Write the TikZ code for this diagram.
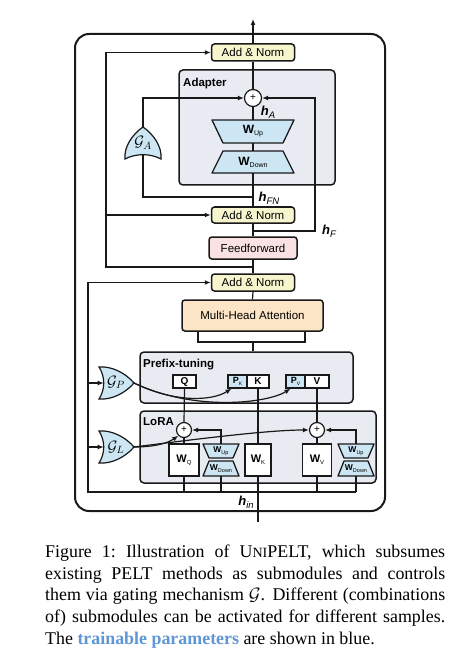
\RequirePackage{fix-cm}
\documentclass[tikz,border=0pt]{standalone}
\usepackage{fontspec}
\setmainfont{Liberation Serif}
\setsansfont{Liberation Sans}
\usetikzlibrary{arrows.meta,calc}
\definecolor{normfill}{RGB}{246,245,205}
\definecolor{fffill}{RGB}{250,226,226}
\definecolor{mhafill}{RGB}{252,229,198}
\definecolor{modfill}{RGB}{232,236,242}
\definecolor{trfill}{RGB}{205,230,243}
\definecolor{capblue}{RGB}{95,150,215}
\definecolor{ln}{RGB}{25,25,25}
\newcommand{\Wlab}[3]{{\fontsize{#1}{#1}\selectfont\bfseries W}{\fontsize{#2}{#2}\selectfont\raisebox{-0.3em}{#3}}}
\newcommand{\hlab}[1]{{\fontsize{13}{13}\selectfont\bfseries\itshape h}{\fontsize{9.5}{9.5}\selectfont\itshape\raisebox{-0.35em}{#1}}}
\newcommand{\capline}[1]{\makebox[400pt][s]{#1}}
% gate: tip x, tip y, rotation, name, length, half width
\newcommand{\gateshape}[6]{%
  \begin{scope}[shift={(#1,#2)},rotate=#3]
    \draw[gatestyle] (-#5,-#6) .. controls ({-0.63*#5},{-1.07*#6}) and ({-0.23*#5},{-0.6*#6}) .. (0,0)
      .. controls ({-0.23*#5},{0.6*#6}) and ({-0.63*#5},{1.07*#6}) .. (-#5,#6)
      .. controls ({-0.82*#5},{0.4*#6}) and ({-0.82*#5},{-0.4*#6}) .. cycle;
    \coordinate (#4-tip) at (0,0);
    \coordinate (#4-back) at ({-0.865*#5},0);
  \end{scope}}
\begin{document}
\begin{tikzpicture}[x=1pt,y=-1pt,
  conn/.style={draw=ln, line width=1.2pt},
  arr/.style={conn, -{Latex[length=6pt,width=5pt]}},
  boxstyle/.style={draw=ln, line width=1.5pt, rounded corners=3pt, inner sep=0pt, font=\sffamily\fontsize{11.5}{12}\selectfont},
  normbox/.style={boxstyle, fill=normfill, minimum width=83pt, minimum height=17pt},
  modbox/.style={draw=ln, line width=1.5pt, fill=modfill, rounded corners=4pt, inner sep=0pt},
  modlabel/.style={anchor=base west, inner sep=0pt, font=\sffamily\bfseries\fontsize{11.5}{12}\selectfont},
  smallbox/.style={draw=ln, line width=1.3pt, fill=white, inner sep=0pt, minimum height=13pt, font=\sffamily\bfseries\fontsize{10}{10}\selectfont},
  wbox/.style={draw=ln, line width=1.3pt, fill=white, inner sep=0pt, minimum height=32pt, font=\sffamily},
  trap/.style={draw=ln, line width=1.3pt, fill=trfill, line join=round},
  gatestyle/.style={draw=ln, line width=1.2pt, fill=trfill},
  pluscirc/.style={circle, draw=ln, line width=1.2pt, fill=white, inner sep=0pt, font=\sffamily\fontsize{10}{10}\selectfont},
  txt/.style={inner sep=0pt, font=\sffamily}
]
\useasboundingbox (0,0) rectangle (474,668);
\fill[white] (0,0) rectangle (474,668);

% outer frame and modules
\node[draw=ln, line width=2pt, rounded corners=14pt, minimum width=310pt, minimum height=477pt, inner sep=0pt] (outer) at (230,272.5) {};
\node[modbox, minimum width=156pt, minimum height=115pt] (adapter) at (257,127.5) {};
\node[modbox, minimum width=213pt, minimum height=51pt] (prefix) at (246.5,377.5) {};
\node[modbox, minimum width=236pt, minimum height=72pt] (lora) at (258,447) {};
\node[modlabel] (adlab) at (183,86.5) {Adapter};
\node[modlabel] (prlab) at (143,367) {Prefix-tuning};
\node[modlabel] (lolab) at (143,425) {LoRA};

% trunk nodes
\node[normbox] (an1) at (253,52.5) {Add \& Norm};
\node[normbox, minimum height=16pt] (an2) at (253,215) {Add \& Norm};
\node[boxstyle, fill=fffill, minimum width=88pt, minimum height=22pt] (ff) at (253,248) {Feedforward};
\node[normbox] (an3) at (253,282.5) {Add \& Norm};
\node[boxstyle, fill=mhafill, minimum width=141pt, minimum height=31pt] (mha) at (252.5,315.5) {Multi-Head Attention};

% adapter internals
\node[pluscirc, minimum size=17pt] (plusA) at (253,98) {+};
\draw[trap] (212,120) -- (294,120) -- (283,143) -- (223,143) -- cycle;
\draw[trap] (223,151) -- (283,151) -- (294,173) -- (212,173) -- cycle;
\node[txt] (wupA) at (253,131) {\Wlab{12}{7}{Up}};
\node[txt] (wdnA) at (253,162) {\Wlab{12}{7}{Down}};
\coordinate (wupA-t) at (253,120);
\coordinate (wupA-b) at (253,143);
\coordinate (wdnA-t) at (253,151);
\coordinate (wdnA-b) at (253,173);
\node[txt] (hA) at (268,112) {\hlab{A}};
\node[txt] (hFN) at (269,198) {\hlab{FN}};
\node[txt] (hF) at (329,231) {\hlab{F}};

% gate A
\gateshape{143}{127}{90}{gA}{32}{18}
\node[txt] (gAlab) at (143,143) {\fontsize{15}{15}\selectfont$\mathcal{G}_A$};

% prefix internals
\node[smallbox, minimum width=23pt] (Q) at (184.5,381.5) {Q};
\node[smallbox, minimum width=19pt, fill=trfill] (pk) at (237.5,381.5) {{\fontsize{9}{9}\selectfont P}{\fontsize{5}{5}\selectfont\mdseries\raisebox{-0.3em}{K}}};
\node[smallbox, minimum width=22pt] (K) at (258,381.5) {K};
\node[smallbox, minimum width=19pt, fill=trfill] (pv) at (295.5,381.5) {{\fontsize{9}{9}\selectfont P}{\fontsize{5}{5}\selectfont\mdseries\raisebox{-0.3em}{V}}};
\node[smallbox, minimum width=24pt] (V) at (317,381.5) {V};
\gateshape{134}{383}{0}{gP}{35}{16}
\node[txt] (gPlab) at (116,382) {\fontsize{15}{15}\selectfont$\mathcal{G}_P$};

% lora internals
\node[pluscirc, minimum size=15pt] (plusL) at (184,430) {+};
\node[pluscirc, minimum size=15pt] (plusR) at (317,430) {+};
\node[wbox, minimum width=30pt] (wq) at (184,460) {\Wlab{11}{6}{Q}};
\node[wbox, minimum width=26pt] (wk) at (258,460) {\Wlab{11}{6}{K}};
\node[wbox, minimum width=29pt] (wv) at (317,460) {\Wlab{11}{6}{V}};
\draw[trap] (203,444) -- (239,444) -- (233,458) -- (209,458) -- cycle;
\draw[trap] (209,461) -- (233,461) -- (239,476) -- (203,476) -- cycle;
\draw[trap] (338,444) -- (374,444) -- (368,458) -- (344,458) -- cycle;
\draw[trap] (344,461) -- (368,461) -- (374,476) -- (338,476) -- cycle;
\node[txt] (wuL) at (221,451) {\Wlab{8.5}{5.5}{Up}};
\node[txt] (wdL) at (221,468.5) {\Wlab{8.5}{5.5}{Down}};
\node[txt] (wuR) at (356,451) {\Wlab{8.5}{5.5}{Up}};
\node[txt] (wdR) at (356,468.5) {\Wlab{8.5}{5.5}{Down}};
\coordinate (wuL-t) at (221,444);
\coordinate (wdL-b) at (221,476);
\coordinate (wuR-t) at (356,444);
\coordinate (wdR-b) at (356,476);
\gateshape{134}{447}{0}{gL}{35}{16}
\node[txt] (gLlab) at (116,447) {\fontsize{15}{15}\selectfont$\mathcal{G}_L$};
\node[txt] (hin) at (246,502) {\hlab{in}};

% coordinates
\coordinate (out) at (253,19);
\coordinate (in) at (258,522);
\coordinate (res1) at (253,267);
\coordinate (L1bot) at (106,267);
\coordinate (L1top) at (106,52.5);
\coordinate (L1mid) at (106,215);
\coordinate (L2bot) at (88,492);
\coordinate (L2top) at (88,282.5);
\coordinate (L2p) at (88,383);
\coordinate (L2l) at (88,447);
\coordinate (busR) at (356,492);
\coordinate (gAturn) at (143,98);
\coordinate (gAlow) at (143,197);
\coordinate (hFNj) at (253,197);
\coordinate (hFj) at (253,231);
\coordinate (hFc) at (315,231);
\coordinate (hFturn) at (315,98);
\coordinate (brL) at (198,331);
\coordinate (brLb) at (198,342);
\coordinate (brR) at (305,331);
\coordinate (brRb) at (305,342);
\coordinate (brM) at (253,342);

% trunk connectors
\draw[arr] (an1.north) -- (out);
\draw[conn] (plusA.north) -- (an1.south);
\draw[conn] (wupA-t) -- (plusA.south);
\draw[conn] (wdnA-t) -- (wupA-b);
\draw[conn] (an2.north) -- (wdnA-b);
\draw[conn] (ff.north) -- (an2.south);
\draw[conn] (an3.north) -- (ff.south);
\draw[conn] (mha.north) -- (an3.south);
\draw[conn] (brL) -- (brLb) -- (brRb) -- (brR);
\draw[conn] (brM) -- (brM |- prefix.north);

% adapter connectors
\draw[arr] (gA-tip) -- (gAturn) -- (plusA.west);
\draw[conn] (gA-back) -- (gAlow) -- (hFNj);
\draw[arr] (hFj) -- (hFc) -- (hFturn) -- (plusA.east);
\draw[arr] (res1) -- (L1bot) -- (L1top) -- (an1.west);
\draw[arr] (L1mid) -- (an2.west);

% lower residual and bus
\draw[arr] (busR) -- (L2bot) -- (L2top) -- (an3.west);
\draw[arr] (L2p) -- (gP-back);
\draw[arr] (L2l) -- (gL-back);
\draw[conn] (in) -- (wk.south);
\draw[conn] (wq.south) -- (wq.south |- L2bot);
\draw[conn] (wdL-b) -- (wdL-b |- L2bot);
\draw[conn] (wv.south) -- (wv.south |- L2bot);
\draw[conn] (wdR-b) -- (busR);

% lora / prefix connectors
\draw[conn] (Q.south) -- (plusL.north);
\draw[conn] (plusL.south) -- (wq.north);
\draw[conn] (K.south) -- (wk.north);
\draw[conn] (V.south) -- (plusR.north);
\draw[conn] (plusR.south) -- (wv.north);
\draw[arr] (wuL-t) |- (plusL.east);
\draw[arr] (wuR-t) |- (plusR.east);
\draw[arr] (gP-tip) .. controls (175,403) and (212,401) .. ([xshift=-6pt]pk.south);
\draw[arr] (gP-tip) .. controls (195,412) and (268,403) .. ([xshift=-5pt]pv.south);
\draw[arr] (gL-tip) .. controls (155,447) and (168,443) .. (plusL.south west);
\draw[arr] (gL-tip) .. controls (205,438) and (270,430) .. (plusR.west);

% caption
\node[anchor=north west, align=left, inner sep=0pt,
      font=\fontsize{17.9}{21.7}\selectfont] (cap) at (45,544.5)
  {\frenchspacing
   \capline{Figure 1: Illustration of U{\fontsize{14.1}{14.1}\selectfont NI}PELT, which subsumes}\\
   \capline{existing PELT methods as submodules and controls}\\
   \capline{them via gating mechanism $\mathcal{G}$. Different (combinations}\\
   \capline{of) submodules can be activated for different samples.}\\
   The \textcolor{capblue}{\textbf{trainable parameters}} are shown in blue.};
\end{tikzpicture}
\end{document}
